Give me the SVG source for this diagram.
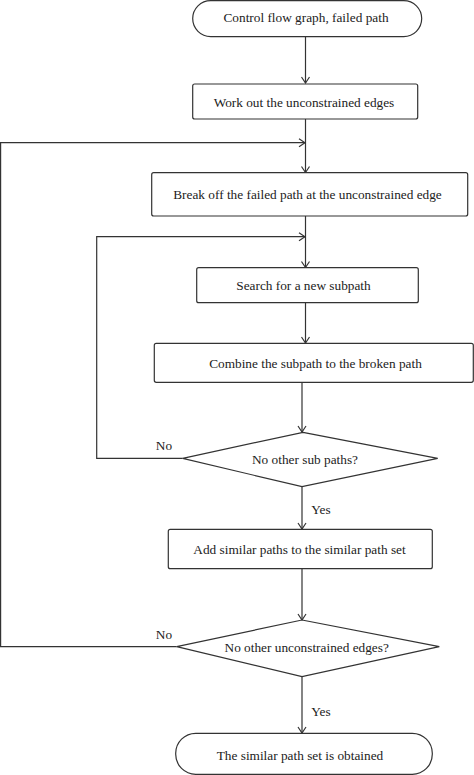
<svg xmlns="http://www.w3.org/2000/svg" width="474" height="775" viewBox="0 0 474 775">
<defs>
<marker id="ah" viewBox="0 0 10 10" refX="9" refY="5" markerWidth="10" markerHeight="10" markerUnits="userSpaceOnUse" orient="auto">
<path d="M3,1 L9,5 L3,9" fill="none" stroke="#333" stroke-width="1.2"/>
</marker>
<style>
.n{fill:#fff;stroke:#333;stroke-width:1.2}
.t{font-family:"Liberation Serif","Times New Roman",serif;font-size:13.3px;fill:#222;text-anchor:middle}
.c{fill:none;stroke:#333;stroke-width:1.2}
</style>
</defs>
<rect width="474" height="775" fill="#fff"/>
<g id="connectors">
<path class="c" d="M305.5,37 V83" marker-end="url(#ah)"/>
<path class="c" d="M305.5,119 V172.5" marker-end="url(#ah)"/>
<path class="c" d="M305.5,216 V267.5" marker-end="url(#ah)"/>
<path class="c" d="M305.5,302.7 V343" marker-end="url(#ah)"/>
<path class="c" d="M302,382.3 V432" marker-end="url(#ah)"/>
<path class="c" d="M302,486.7 V529" marker-end="url(#ah)"/>
<path class="c" d="M302,568.7 V620" marker-end="url(#ah)"/>
<path class="c" d="M302,676.7 V733" marker-end="url(#ah)"/>
<path class="c" d="M182.7,458.3 H96.7 V236.7 H305" marker-end="url(#ah)"/>
<path class="c" d="M176.7,646.7 H0.6 V142.7 H305" marker-end="url(#ah)"/>
<text class="t" x="164" y="449.5">No</text>
<text class="t" x="164" y="638.5">No</text>
<text class="t" x="321" y="513.5">Yes</text>
<text class="t" x="321" y="715.5">Yes</text>
</g>
<g id="start">
<rect class="n" x="192.7" y="0.6" width="229" height="36" rx="18"/>
<text class="t" x="306" y="22">Control flow graph, failed path</text>
</g>
<g id="work">
<rect class="n" x="192.7" y="84" width="225" height="35" rx="2"/>
<text class="t" x="304" y="106.5">Work out the unconstrained edges</text>
</g>
<g id="break">
<rect class="n" x="151.7" y="172.7" width="316" height="43.3" rx="2"/>
<text class="t" x="307.5" y="198.5">Break off the failed path at the unconstrained edge</text>
</g>
<g id="search">
<rect class="n" x="196.7" y="267.7" width="221.6" height="35" rx="2"/>
<text class="t" x="303.5" y="289.5">Search for a new subpath</text>
</g>
<g id="combine">
<rect class="n" x="154.3" y="343.3" width="319" height="39" rx="2"/>
<text class="t" x="315.5" y="367.5">Combine the subpath to the broken path</text>
</g>
<g id="dec1">
<polygon class="n" points="303,432.3 437.7,458.3 302,486.7 182.7,458.3"/>
<text class="t" x="305" y="463.5">No other sub paths?</text>
</g>
<g id="add">
<rect class="n" x="168.3" y="529.3" width="264" height="39.4" rx="2"/>
<text class="t" x="299.5" y="554">Add similar paths to the similar path set</text>
</g>
<g id="dec2">
<polygon class="n" points="302,620 439.3,646.7 302,676.7 176.7,646.7"/>
<text class="t" x="306.7" y="651.5">No other unconstrained edges?</text>
</g>
<g id="end">
<rect class="n" x="175.7" y="733.3" width="256.6" height="41" rx="20"/>
<text class="t" x="300" y="760">The similar path set is obtained</text>
</g>
</svg>
